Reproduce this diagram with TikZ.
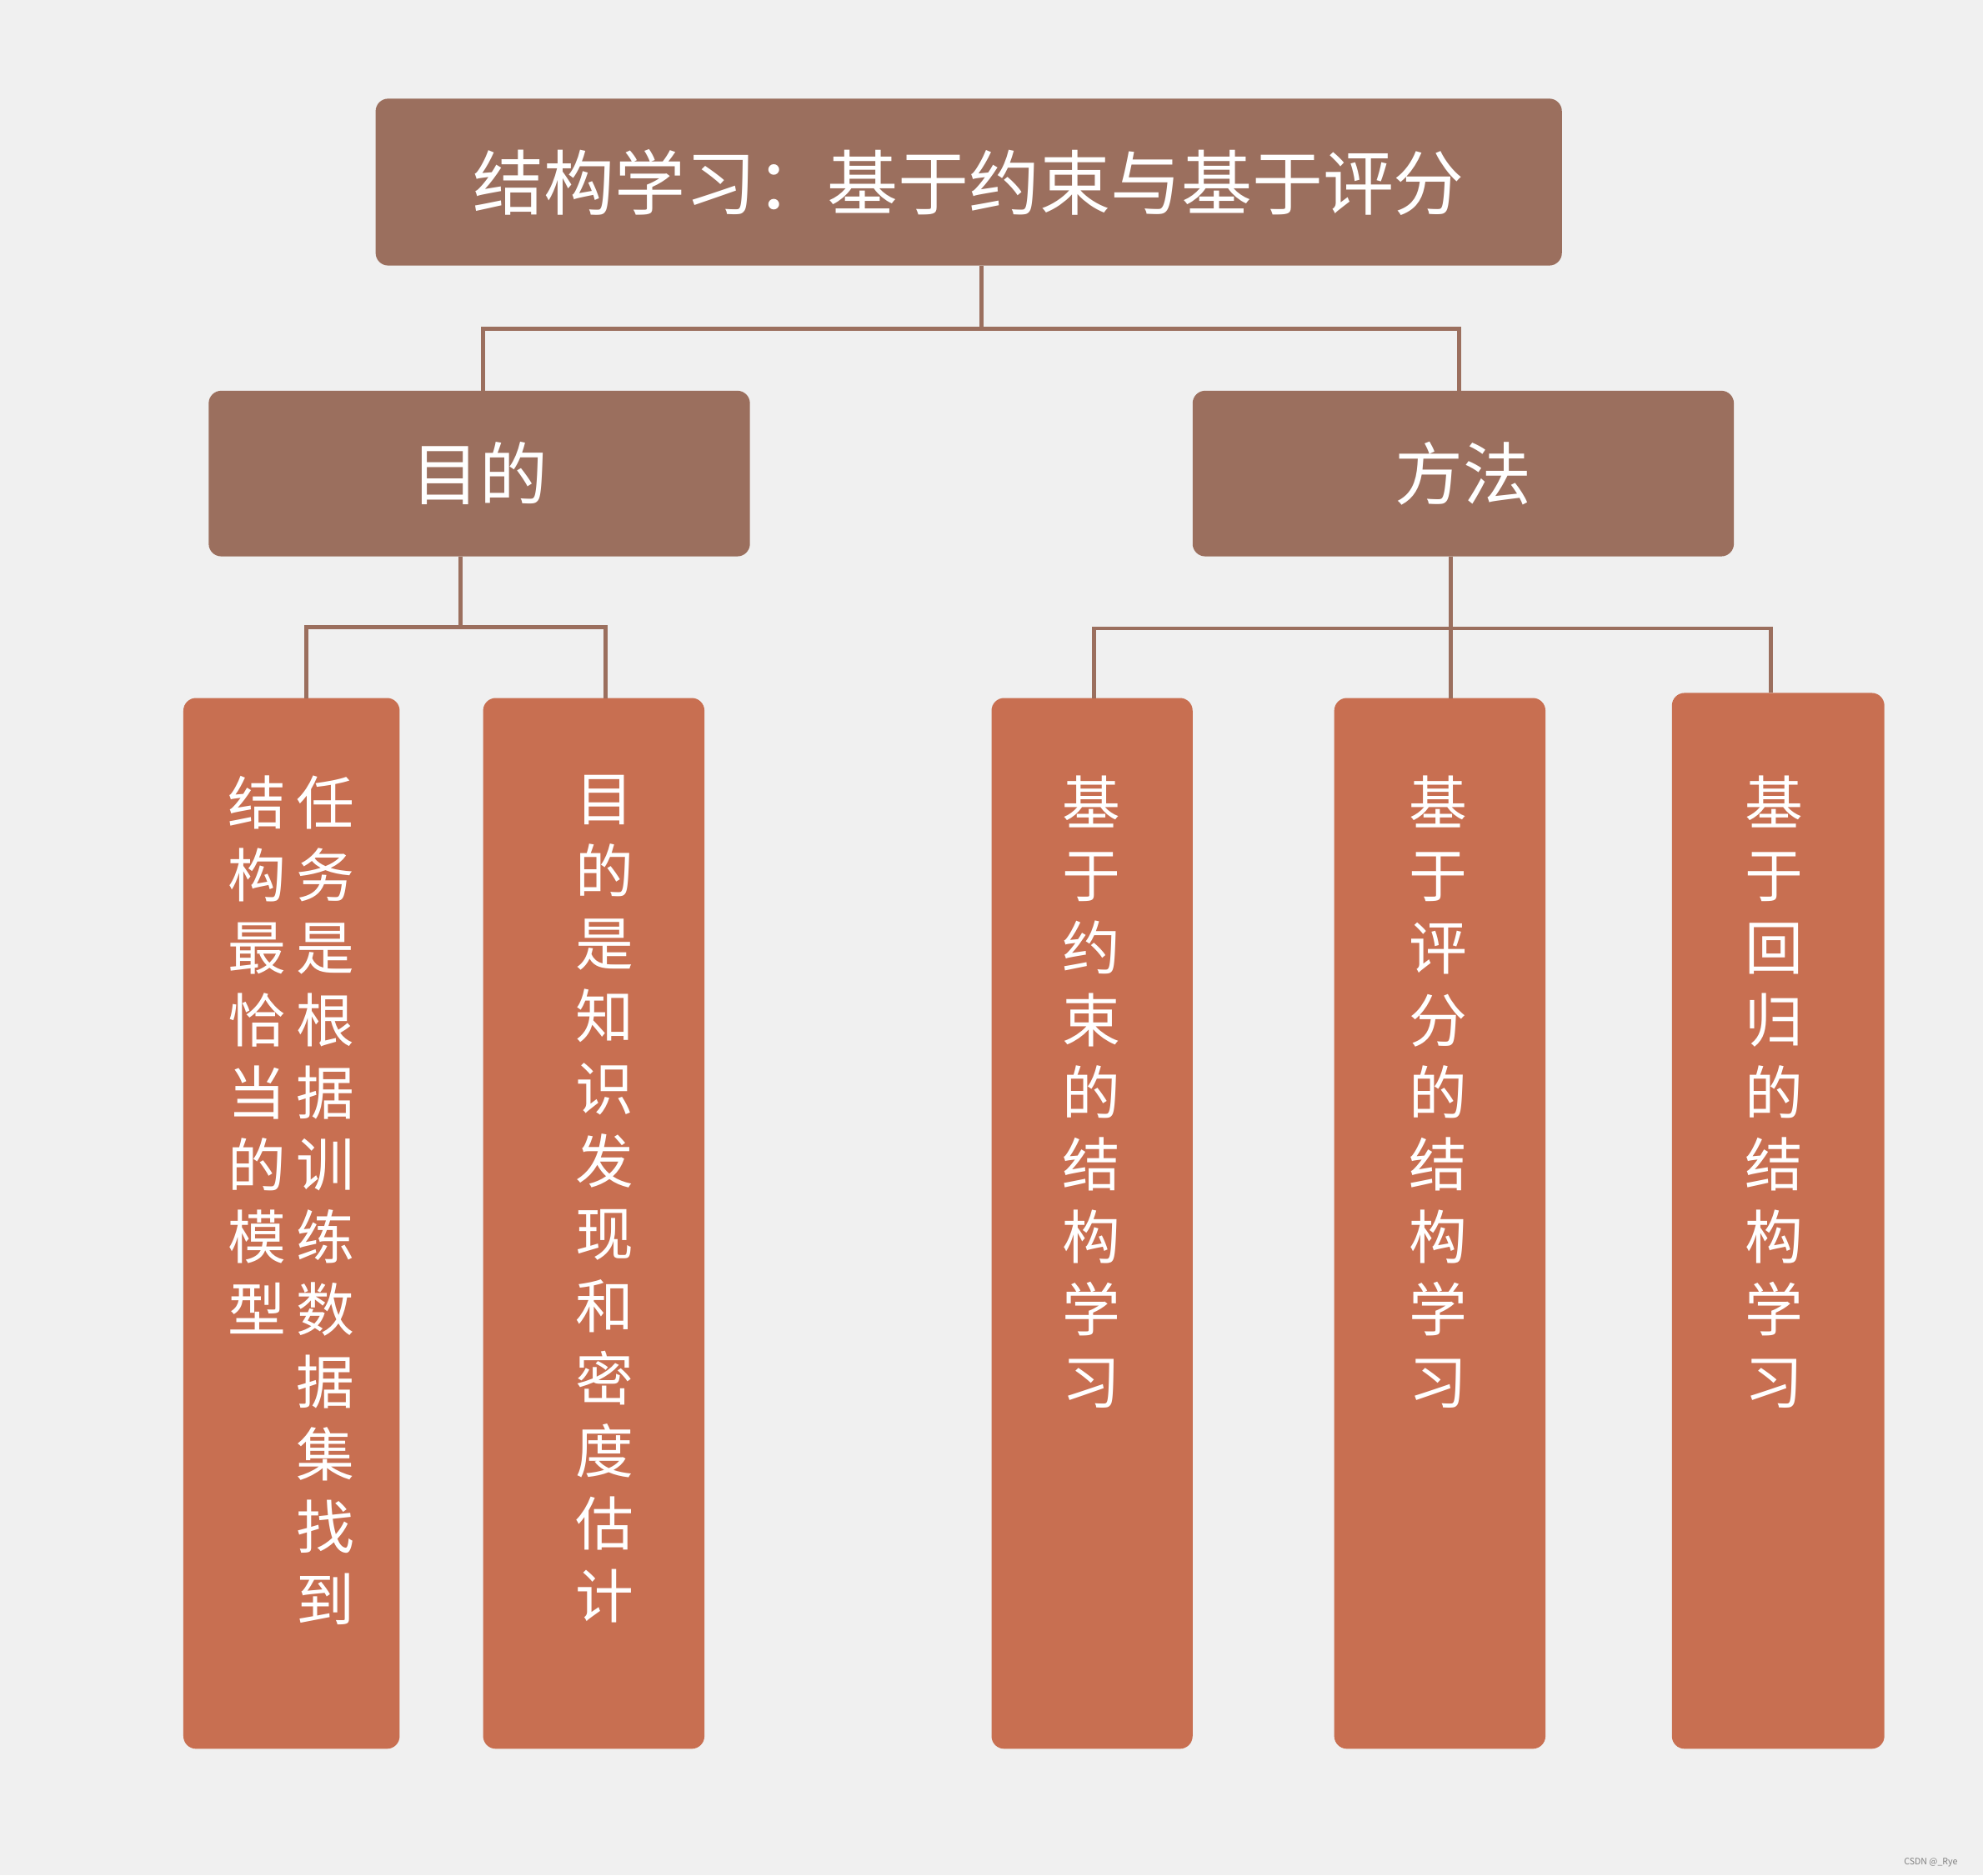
\documentclass[tikz,border=0pt]{standalone}
\usepackage{fontspec}
\setmainfont{Noto Sans CJK SC}
\begin{document}
\begin{tikzpicture}[x=0.5pt,y=-0.5pt,
  hb/.style={fill=boxbrown,rounded corners=5pt,draw=none},
  lb/.style={fill=leafred,rounded corners=5pt,draw=none},
  ln/.style={draw=boxbrown,line width=1.6pt},
  vt/.style={text=white,align=center,inner sep=0pt,anchor=north,font=\fontsize{23}{28.65}\selectfont}]
\definecolor{boxbrown}{HTML}{9B6F5E}
\definecolor{leafred}{HTML}{C86F51}
\fill[fill={rgb,255:red,240;green,240;blue,240}] (0,0) rectangle (1568,1483);
\useasboundingbox (0,0) rectangle (1568,1483);
\node[hb,minimum width=469pt,minimum height=66pt,text=white,font=\fontsize{28}{30}\selectfont] (top) at (766,144) {结构学习：基于约束与基于评分};
\node[hb,minimum width=214pt,minimum height=65.5pt,text=white,font=\fontsize{27}{30}\selectfont] (goal) at (379,374.5) {目的};
\node[hb,minimum width=214pt,minimum height=65.5pt,text=white,font=\fontsize{27}{30}\selectfont] (meth) at (1157,374.5) {方法};
\node[lb,minimum width=85.5pt,minimum height=415.5pt] (l1) at (230.5,967.5) {};
\node[lb,minimum width=87.5pt,minimum height=415.5pt] (l2) at (469.5,967.5) {};
\node[lb,minimum width=79.5pt,minimum height=415.5pt] (l3) at (863.5,967.5) {};
\node[lb,minimum width=83.5pt,minimum height=415.5pt] (l4) at (1138.5,967.5) {};
\node[lb,minimum width=84pt,minimum height=417.5pt] (l5) at (1406,965.5) {};
\node[vt] (t1a) at (257,613) {任\\务\\是\\根\\据\\训\\练\\数\\据\\集\\找\\到};
\node[vt] (t1b) at (203,613) {结\\构\\最\\恰\\当\\的\\模\\型};
\node[vt] (t2) at (478,613) {目\\的\\是\\知\\识\\发\\现\\和\\密\\度\\估\\计};
\node[vt] (t3) at (863,613) {基\\于\\约\\束\\的\\结\\构\\学\\习};
\node[vt] (t4) at (1137,613) {基\\于\\评\\分\\的\\结\\构\\学\\习};
\node[vt] (t5) at (1403,613) {基\\于\\回\\归\\的\\结\\构\\学\\习};
\draw[ln] (top.south -| 776,0) -- (776,260) -- (382,260) -- (382,309);
\draw[ln] (776,260) -- (1154,260) -- (1154,309);
\draw[ln] (364,440) -- (364,496) -- (242,496) -- (242,552);
\draw[ln] (364,496) -- (479,496) -- (479,552);
\draw[ln] (1147,440) -- (1147,552);
\draw[ln] (1147,497) -- (865,497) -- (865,552);
\draw[ln] (1147,497) -- (1400,497) -- (1400,548);
\node[text=gray,font=\fontsize{3.5}{4}\selectfont,anchor=east] (wm) at (1555,1473) {CSDN @\_Rye};
\end{tikzpicture}
\end{document}
